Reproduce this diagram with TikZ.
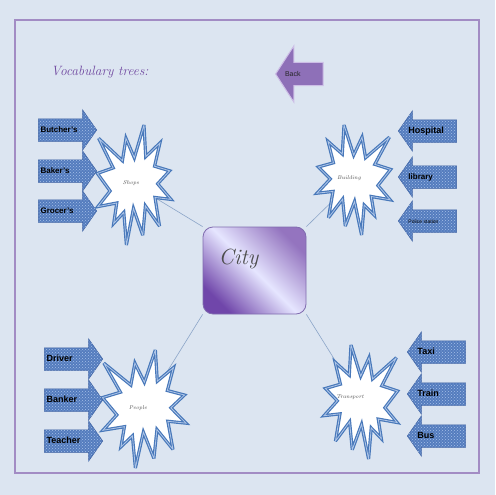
\documentclass[tikz,border=0pt]{standalone}
\usepackage{fontspec}
\setsansfont{Liberation Sans}
\usetikzlibrary{shapes.arrows}
\usetikzlibrary{patterns}
\usetikzlibrary{positioning}
\definecolor{paper}{RGB}{220,229,241}
\definecolor{framepurple}{RGB}{162,140,196}
\definecolor{titlepurple}{RGB}{112,72,160}
\definecolor{backfill}{RGB}{142,112,184}
\definecolor{backedge}{RGB}{205,190,230}
\definecolor{wordblue}{RGB}{84,124,190}
\definecolor{wordedge}{RGB}{62,98,162}
\definecolor{wordspeck}{RGB}{165,192,232}
\definecolor{burstblue}{RGB}{72,120,186}
\definecolor{burstpale}{RGB}{175,198,232}
\definecolor{linkgray}{RGB}{140,165,200}
\definecolor{citypurple}{RGB}{112,70,170}
\definecolor{cityedge}{RGB}{128,108,175}
\tikzset{
  % explosion drawn round each topic word
  burst/.pic = {
    \draw[burst line] (0.009,-0.453) -- (-0.217,-0.778) -- (-0.313,-0.405)
    -- (-0.956,-0.778) -- (-0.562,-0.285) -- (-0.990,-0.193)
    -- (-0.646,0.100) -- (-0.977,0.360) -- (-0.466,0.300)
    -- (-0.549,0.641) -- (-0.276,0.456) -- (-0.205,1.000)
    -- (-0.015,0.392) -- (0.236,0.837) -- (0.308,0.348)
    -- (0.690,0.685) -- (0.568,0.208) -- (1.000,0.240)
    -- (0.640,-0.020) -- (0.963,-0.237) -- (0.556,-0.313)
    -- (0.701,-0.701) -- (0.317,-0.472) -- (0.270,-1.000)
    -- cycle;
  },
  burst line/.style = {
    draw = burstblue,
    double = burstpale,
    double distance = 0.8pt,
    line width = 1.2pt,
    miter limit = 4,
    fill = white
  },
  burst word/.style = {
    font = \itshape\fontsize{5.5}{6}\selectfont,
    text = black!70
  }
}
\tikzset {
  % blue arrow holding one word
  word/.style = {
    single arrow,
    draw = wordedge,
    line width = 0.5pt,
    fill = wordblue,
    postaction = {pattern = crosshatch dots, pattern color = wordspeck},
    text width = 46pt,
    align = left,
    text height = 6pt,
    text depth = 2pt,
    inner xsep = 2pt,
    inner ysep = 7pt,
    single arrow head extend = 9pt,
    single arrow tip angle = 110,
    font = \sffamily\bfseries\fontsize{8}{8}\selectfont,
    text = black,
    anchor = tip
  },
  % same arrow, pointing to the left
  word left/.style = {
    word,
    shape border rotate = 180
  },
  % purple arrow in the top corner
  back arrow/.style = {
    single arrow,
    shape border rotate = 180,
    draw = backedge,
    line width = 1pt,
    fill = backfill,
    text width = 36pt,
    align = left,
    text height = 5pt,
    text depth = 1pt,
    inner xsep = 1.5pt,
    inner ysep = 8pt,
    single arrow head extend = 16.5pt,
    single arrow tip angle = 114,
    font = \sffamily\fontsize{7}{7}\selectfont,
    text = black!85,
    anchor = tip
  },
  city/.style = {
    draw = cityedge,
    line width = 0.8pt,
    rounded corners = 10pt,
    minimum width = 103pt,
    minimum height = 87pt,
    top color = citypurple!75,
    bottom color = citypurple,
    middle color = white!90!blue,
    shading angle = -45
  },
  link/.style = {
    draw = linkgray,
    line width = 0.6pt
  }
}

\begin{document}
\begin{tikzpicture}[x=1pt,y=-1pt]
    \useasboundingbox[fill=paper] (0,0) rectangle (495,495);
    \draw[framepurple, line width=1.6pt] (15,20) rectangle (479,473);

    \node[font=\itshape\fontsize{13.5}{14}\selectfont, text=titlepurple,
      anchor=west, inner sep=0] (title) at (51,72) {Vocabulary trees:};
    \node[back arrow] (back) at (275,74) {Back};

    \coordinate (shops-c) at (134,185);
    \coordinate (building-c) at (354,180);
    \coordinate (people-c) at (144,409);
    \coordinate (transport-c) at (361,402);
    \node[city] (city) at (254.5,270.5) {};
    \node[font=\itshape\fontsize{22}{22}\selectfont, text=black!70]
      (cityword) at ([xshift=-16pt,yshift=12pt]city.center) {City};

    \draw[link] (shops-c) -- (city.north west);
    \draw[link] (building-c) -- (city.north east);
    \draw[link] (people-c) -- (city.south west);
    \draw[link] (transport-c) -- (city.south east);

    \pic[xscale=37, yscale=60] at (shops-c) {burst};
    \pic[xscale=-37, yscale=55] at (building-c) {burst};
    \pic[xscale=42, yscale=59] at (people-c) {burst};
    \pic[xscale=-37, yscale=57] at (transport-c) {burst};
    \node[burst word] (shops) at (131,183) {Shops};
    \node[burst word] (building) at (349,178) {Building};
    \node[burst word] (people) at (138,408) {People};
    \node[burst word] (transport) at (350,397) {Transport};

    \node[word] (butchers) at (97,130) {Butcher's};
    \node[word] (bakers) at (97,171) {Baker's};
    \node[word] (grocers) at (97,211) {Grocer's};

    \node[word left, font=\sffamily\bfseries\fontsize{9}{9}\selectfont]
      (hospital) at (398,131) {Hospital};
    \node[word left] (library) at (398,177) {library};
    \node[word left, font=\sffamily\fontsize{5}{5}\selectfont]
      (police) at (398,221) {Police station};

    \node[word, font=\sffamily\bfseries\fontsize{9}{9}\selectfont]
      (driver) at (103,359) {Driver};
    \node[word, font=\sffamily\bfseries\fontsize{9}{9}\selectfont]
      (banker) at (103,400) {Banker};
    \node[word, font=\sffamily\bfseries\fontsize{9}{9}\selectfont]
      (teacher) at (103,441) {Teacher};

    \node[word left, font=\sffamily\bfseries\fontsize{9}{9}\selectfont]
      (taxi) at (407,352) {Taxi};
    \node[word left, font=\sffamily\bfseries\fontsize{9}{9}\selectfont]
      (train) at (407,394) {Train};
    \node[word left, font=\sffamily\bfseries\fontsize{9}{9}\selectfont]
      (bus) at (407,436) {Bus};
  \end{tikzpicture}
\end{document}
